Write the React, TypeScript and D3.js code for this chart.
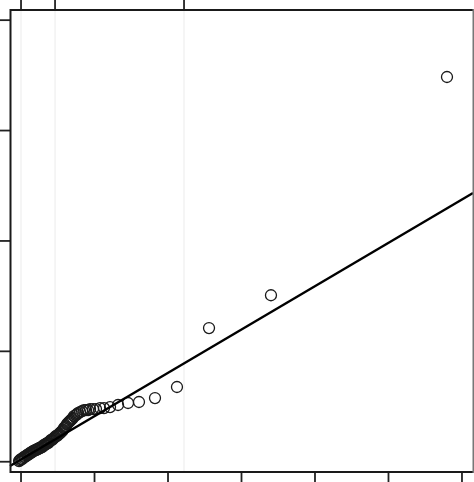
import { useEffect, useRef } from 'react';
import * as d3 from 'd3';

// theoretical quantiles (x) and sorted sample values (y)
const theoretical = [
  -0.027, -0.014, 0, 0.014, 0.027, 0.041, 0.054, 0.068, 0.082, 0.095,
  0.109, 0.122, 0.136, 0.15, 0.163, 0.177, 0.19, 0.204, 0.218, 0.231,
  0.245, 0.259, 0.272, 0.286, 0.299, 0.313, 0.327, 0.34, 0.354, 0.367,
  0.381, 0.395, 0.408, 0.422, 0.435, 0.449, 0.463, 0.476, 0.49, 0.503,
  0.517, 0.531, 0.544, 0.558, 0.571, 0.585, 0.599, 0.612, 0.626, 0.639,
  0.653, 0.667, 0.68, 0.694, 0.707, 0.721, 0.748, 0.762, 0.776, 0.803,
  0.83, 0.857, 0.884, 0.912, 0.939, 0.98, 1.02, 1.075, 1.129, 1.211,
  1.32, 1.456, 1.605, 1.823, 2.122, 2.558, 3.401, 5.796,
];
const sample = [
  0.006, 0.015, 0.024, 0.024, 0.034, 0.043, 0.043, 0.052, 0.061, 0.061,
  0.07, 0.079, 0.079, 0.088, 0.097, 0.097, 0.106, 0.106, 0.115, 0.115,
  0.124, 0.124, 0.133, 0.133, 0.142, 0.152, 0.152, 0.161, 0.169, 0.169,
  0.178, 0.188, 0.197, 0.197, 0.206, 0.215, 0.224, 0.233, 0.233, 0.242,
  0.251, 0.26, 0.269, 0.278, 0.287, 0.305, 0.314, 0.323, 0.341, 0.351,
  0.36, 0.369, 0.378, 0.387, 0.396, 0.414, 0.423, 0.432, 0.441, 0.45,
  0.459, 0.468, 0.468, 0.468, 0.477, 0.477, 0.477, 0.486, 0.486, 0.495,
  0.514, 0.532, 0.541, 0.577, 0.677, 1.211, 1.508, 3.485,
];
const lineIntercept = 0.02;
const lineSlope = 0.3925;

const bottomTicks = [0, 1, 2, 3, 4, 5, 6];
const leftTicks = [0, 1, 2, 3, 4];
const topTicks = [0, 0.463, 2.218];

export default function App() {
  const svgRef = useRef<SVGSVGElement>(null);
  const width = 474;
  const height = 482;

  useEffect(() => {
    if (!svgRef.current) return;
    document.body.style.margin = '0';
    const svg = d3.select(svgRef.current);
    svg.selectAll('*').remove();

    const left = 10, right = 473, top = 10, bottom = 472;
    const x = d3.scaleLinear().domain([-0.15, 6.15]).range([left, right]);
    const y = d3.scaleLinear().domain([-0.093, 4.092]).range([bottom, top]);

    // faint vertical guides
    svg.append('g')
      .selectAll('line')
      .data(topTicks)
      .join('line')
      .attr('x1', d => x(d))
      .attr('x2', d => x(d))
      .attr('y1', top)
      .attr('y2', bottom)
      .attr('stroke', '#f2f2f2')
      .attr('stroke-width', 1.5);

    // ticks outside the frame
    const tickStroke = '#222';
    svg.append('g')
      .selectAll('line')
      .data(leftTicks)
      .join('line')
      .attr('x1', 0)
      .attr('x2', left)
      .attr('y1', d => y(d))
      .attr('y2', d => y(d))
      .attr('stroke', tickStroke)
      .attr('stroke-width', 1.8);

    svg.append('g')
      .selectAll('line')
      .data(bottomTicks)
      .join('line')
      .attr('x1', d => x(d))
      .attr('x2', d => x(d))
      .attr('y1', bottom)
      .attr('y2', height)
      .attr('stroke', tickStroke)
      .attr('stroke-width', 1.8);

    svg.append('g')
      .selectAll('line')
      .data(topTicks)
      .join('line')
      .attr('x1', d => x(d))
      .attr('x2', d => x(d))
      .attr('y1', 0)
      .attr('y2', top)
      .attr('stroke', tickStroke)
      .attr('stroke-width', 1.8);

    // points
    const points = theoretical.map((t, i) => [t, sample[i]] as [number, number]);
    svg.append('g')
      .selectAll('circle')
      .data(points)
      .join('circle')
      .attr('cx', d => x(d[0]))
      .attr('cy', d => y(d[1]))
      .attr('r', 5.5)
      .attr('fill', 'none')
      .attr('stroke', '#1a1a1a')
      .attr('stroke-width', 1.3);

    // reference line
    const [x0, x1] = x.domain();
    svg.append('line')
      .attr('x1', x(x0))
      .attr('y1', y(lineIntercept + lineSlope * x0))
      .attr('x2', x(x1))
      .attr('y2', y(lineIntercept + lineSlope * x1))
      .attr('stroke', '#000')
      .attr('stroke-width', 2.4);

    // frame: left, top, bottom dark; right edge is cut off and greyish
    const frame = svg.append('g').attr('fill', 'none');
    frame.append('path')
      .attr('d', `M${right},${top}H${left + 0.5}V${bottom}H${right}`)
      .attr('stroke', '#1a1a1a')
      .attr('stroke-width', 2);
    frame.append('line')
      .attr('x1', right + 0.5)
      .attr('x2', right + 0.5)
      .attr('y1', top - 1)
      .attr('y2', bottom + 1)
      .attr('stroke', '#777')
      .attr('stroke-width', 2);
  }, []);

  return (
    <svg
      ref={svgRef}
      width={width}
      height={height}
      style={{ position: 'absolute', left: 0, top: 0, background: '#fff' }}
    />
  );
}
